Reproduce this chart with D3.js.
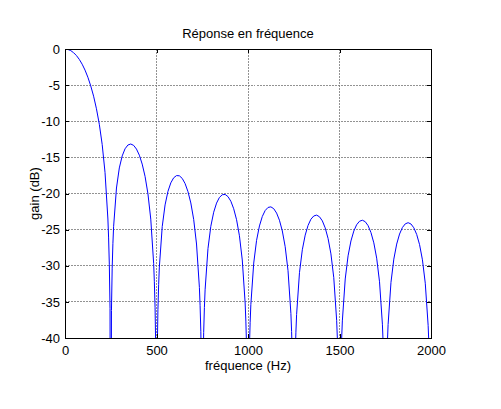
<!DOCTYPE html>
<html>
<head>
<meta charset="utf-8">
<script src="https://cdn.jsdelivr.net/npm/d3@7"></script>
<style>
  body { margin: 0; background: #fff; }
  svg { display: block; font-family: Arial, "Liberation Sans", Helvetica, sans-serif; }
  .grid line { stroke: #777; stroke-width: 0.8; stroke-dasharray: 1.5,1.5; shape-rendering: crispEdges; }
  .axis path { display: none; }
  .axis line { stroke: #000; shape-rendering: crispEdges; }
  .axis text { font-size: 13px; fill: #000; font-family: Arial, "Liberation Sans", Helvetica, sans-serif; }
</style>
</head>
<body>
<svg id="chart"></svg>
<script>
// values (gain in dB, clipped at -40 on the axis)
const xTicks = [0, 500, 1000, 1500, 2000];
const yTicks = [-40, -35, -30, -25, -20, -15, -10, -5, 0];

const freqHz = [
  0, 15.625, 31.25, 46.875, 62.5, 78.125, 93.75, 109.375, 125, 140.625, 156.25, 171.875, 187.5, 203.125, 218.75, 234.375,
  238.28, 242.19, 246.09, 250, 253.91, 257.81, 261.72,
  265.625, 281.25, 296.875, 312.5, 328.125, 343.75, 359.375, 375, 390.625, 406.25, 421.875, 437.5, 453.125, 468.75, 484.375,
  488.28, 492.19, 496.09, 500, 503.91, 507.81, 511.72,
  515.625, 531.25, 546.875, 562.5, 578.125, 593.75, 609.375, 625, 640.625, 656.25, 671.875, 687.5, 703.125, 718.75, 734.375,
  738.28, 742.19, 746.09, 750, 753.91, 757.81, 761.72,
  765.625, 781.25, 796.875, 812.5, 828.125, 843.75, 859.375, 875, 890.625, 906.25, 921.875, 937.5, 953.125, 968.75, 984.375,
  988.28, 992.19, 996.09, 1000, 1003.91, 1007.81, 1011.72,
  1015.625, 1031.25, 1046.875, 1062.5, 1078.125, 1093.75, 1109.375, 1125, 1140.625, 1156.25, 1171.875, 1187.5, 1203.125, 1218.75, 1234.375,
  1238.28, 1242.19, 1246.09, 1250, 1253.91, 1257.81, 1261.72,
  1265.625, 1281.25, 1296.875, 1312.5, 1328.125, 1343.75, 1359.375, 1375, 1390.625, 1406.25, 1421.875, 1437.5, 1453.125, 1468.75, 1484.375,
  1488.28, 1492.19, 1496.09, 1500, 1503.91, 1507.81, 1511.72,
  1515.625, 1531.25, 1546.875, 1562.5, 1578.125, 1593.75, 1609.375, 1625, 1640.625, 1656.25, 1671.875, 1687.5, 1703.125, 1718.75, 1734.375,
  1738.28, 1742.19, 1746.09, 1750, 1753.91, 1757.81, 1761.72,
  1765.625, 1781.25, 1796.875, 1812.5, 1828.125, 1843.75, 1859.375, 1875, 1890.625, 1906.25, 1921.875, 1937.5, 1953.125, 1968.75, 1984.375,
  1988.28, 1992.19, 1996.09, 2000
];

const gainDb = [
  0, -0.06, -0.22, -0.51, -0.91, -1.44, -2.10, -2.92, -3.91, -5.10, -6.53, -8.27, -10.42, -13.21, -17.08, -23.53,
  -26.15, -29.79, -35.94, -100, -36.20, -30.33, -26.95,
  -24.60, -19.24, -16.46, -14.80, -13.81, -13.29, -13.15, -13.34, -13.85, -14.70, -15.93, -17.64, -20.03, -23.55, -29.67,
  -32.21, -35.78, -41.86, -100, -41.99, -36.04, -32.60,
  -30.19, -24.58, -21.58, -19.71, -18.53, -17.83, -17.52, -17.55, -17.91, -18.63, -19.73, -21.31, -23.58, -26.99, -33.01,
  -35.53, -39.07, -45.12, -100, -45.20, -39.23, -35.77,
  -33.33, -27.63, -24.54, -22.59, -21.33, -20.55, -20.17, -20.13, -20.43, -21.07, -22.11, -23.63, -25.85, -29.20, -35.16,
  -37.66, -41.19, -47.23, -100, -47.28, -41.30, -37.82,
  -35.37, -29.63, -26.49, -24.49, -23.18, -22.36, -21.93, -21.85, -22.10, -22.71, -23.70, -25.19, -27.36, -30.68, -36.61,
  -39.10, -42.62, -48.65, -100, -48.68, -42.69, -39.20,
  -36.75, -30.96, -27.79, -25.76, -24.42, -23.56, -23.11, -22.99, -23.22, -23.79, -24.76, -26.22, -28.36, -31.65, -37.55,
  -40.03, -43.55, -49.57, -100, -49.59, -43.59, -40.10,
  -37.63, -31.83, -28.63, -26.57, -25.20, -24.32, -23.84, -23.70, -23.90, -24.45, -25.40, -26.83, -28.95, -32.22, -38.09,
  -40.57, -44.08, -50.09, -100, -50.10, -44.10, -40.60,
  -38.13, -32.30, -29.08, -27.00, -25.61, -24.71, -24.20, -24.04, -24.22, -24.75, -25.67, -27.08, -29.18, -32.42, -38.28,
  -40.75, -44.26, -50.27, -100
];

const titleText = "Réponse en fréquence";
const xLabelText = "fréquence (Hz)";
const yLabelText = "gain (dB)";

const config = {
  width: 501,
  height: 409,
  margin: { top: 49, right: 70, bottom: 71, left: 65 }
};

const width = config.width - config.margin.left - config.margin.right;
const height = config.height - config.margin.top - config.margin.bottom;

const svg = d3.select("#chart")
  .attr("width", config.width)
  .attr("height", config.height);

svg.append("rect")
  .attr("width", config.width)
  .attr("height", config.height)
  .attr("fill", "#fff");

const chart = svg.append("g")
  .attr("transform", `translate(${config.margin.left},${config.margin.top})`);

// scales
const xScale = d3.scaleLinear().domain([0, 2000]).range([0, width]);
const yScale = d3.scaleLinear().domain([-40, 0]).range([height, 0]);

// grid (dotted, matlab style)
const grid = chart.append("g").attr("class", "grid");
grid.selectAll(".vx")
  .data(xTicks.slice(1, -1))
  .enter().append("line")
    .attr("x1", d => xScale(d)).attr("x2", d => xScale(d))
    .attr("y1", 0).attr("y2", height);
grid.selectAll(".hy")
  .data(yTicks.slice(1, -1))
  .enter().append("line")
    .attr("x1", 0).attr("x2", width)
    .attr("y1", d => yScale(d)).attr("y2", d => yScale(d));

// curve
chart.append("clipPath")
  .attr("id", "plot-clip")
  .append("rect")
    .attr("width", width)
    .attr("height", height);

const points = freqHz.map((f, i) => ({ f: f, g: gainDb[i] }));

const line = d3.line()
  .x(d => xScale(d.f))
  .y(d => yScale(d.g));

chart.append("path")
  .datum(points)
  .attr("clip-path", "url(#plot-clip)")
  .attr("fill", "none")
  .attr("stroke", "#0000ff")
  .attr("stroke-width", 1)
  .attr("stroke-linejoin", "round")
  .attr("d", line);

// axes, ticks pointing inward on all four sides
const fmt = d => String(d);

chart.append("g")
  .attr("class", "axis x-axis")
  .attr("transform", `translate(0,${height})`)
  .call(d3.axisBottom(xScale).tickValues(xTicks).tickSize(-4).tickPadding(8).tickFormat(fmt));

chart.append("g")
  .attr("class", "axis")
  .call(d3.axisTop(xScale).tickValues(xTicks).tickSize(-4).tickFormat(""));

chart.append("g")
  .attr("class", "axis y-axis")
  .call(d3.axisLeft(yScale).tickValues(yTicks).tickSize(-4).tickPadding(5).tickFormat(fmt));

chart.append("g")
  .attr("class", "axis")
  .attr("transform", `translate(${width},0)`)
  .call(d3.axisRight(yScale).tickValues(yTicks).tickSize(-4).tickFormat(""));

// box
chart.append("rect")
  .attr("width", width)
  .attr("height", height)
  .attr("fill", "none")
  .attr("stroke", "#000")
  .attr("stroke-width", 1)
  .attr("shape-rendering", "crispEdges");

// labels
svg.append("text")
  .attr("x", config.margin.left + width / 2)
  .attr("y", 38)
  .attr("text-anchor", "middle")
  .attr("font-size", 13)
  .text(titleText);

svg.append("text")
  .attr("x", config.margin.left + width / 2)
  .attr("y", 370)
  .attr("text-anchor", "middle")
  .attr("font-size", 13)
  .text(xLabelText);

svg.append("text")
  .attr("transform", `translate(38.5,${config.margin.top + height / 2}) rotate(-90)`)
  .attr("text-anchor", "middle")
  .attr("font-size", 13)
  .text(yLabelText);
</script>
</body>
</html>
